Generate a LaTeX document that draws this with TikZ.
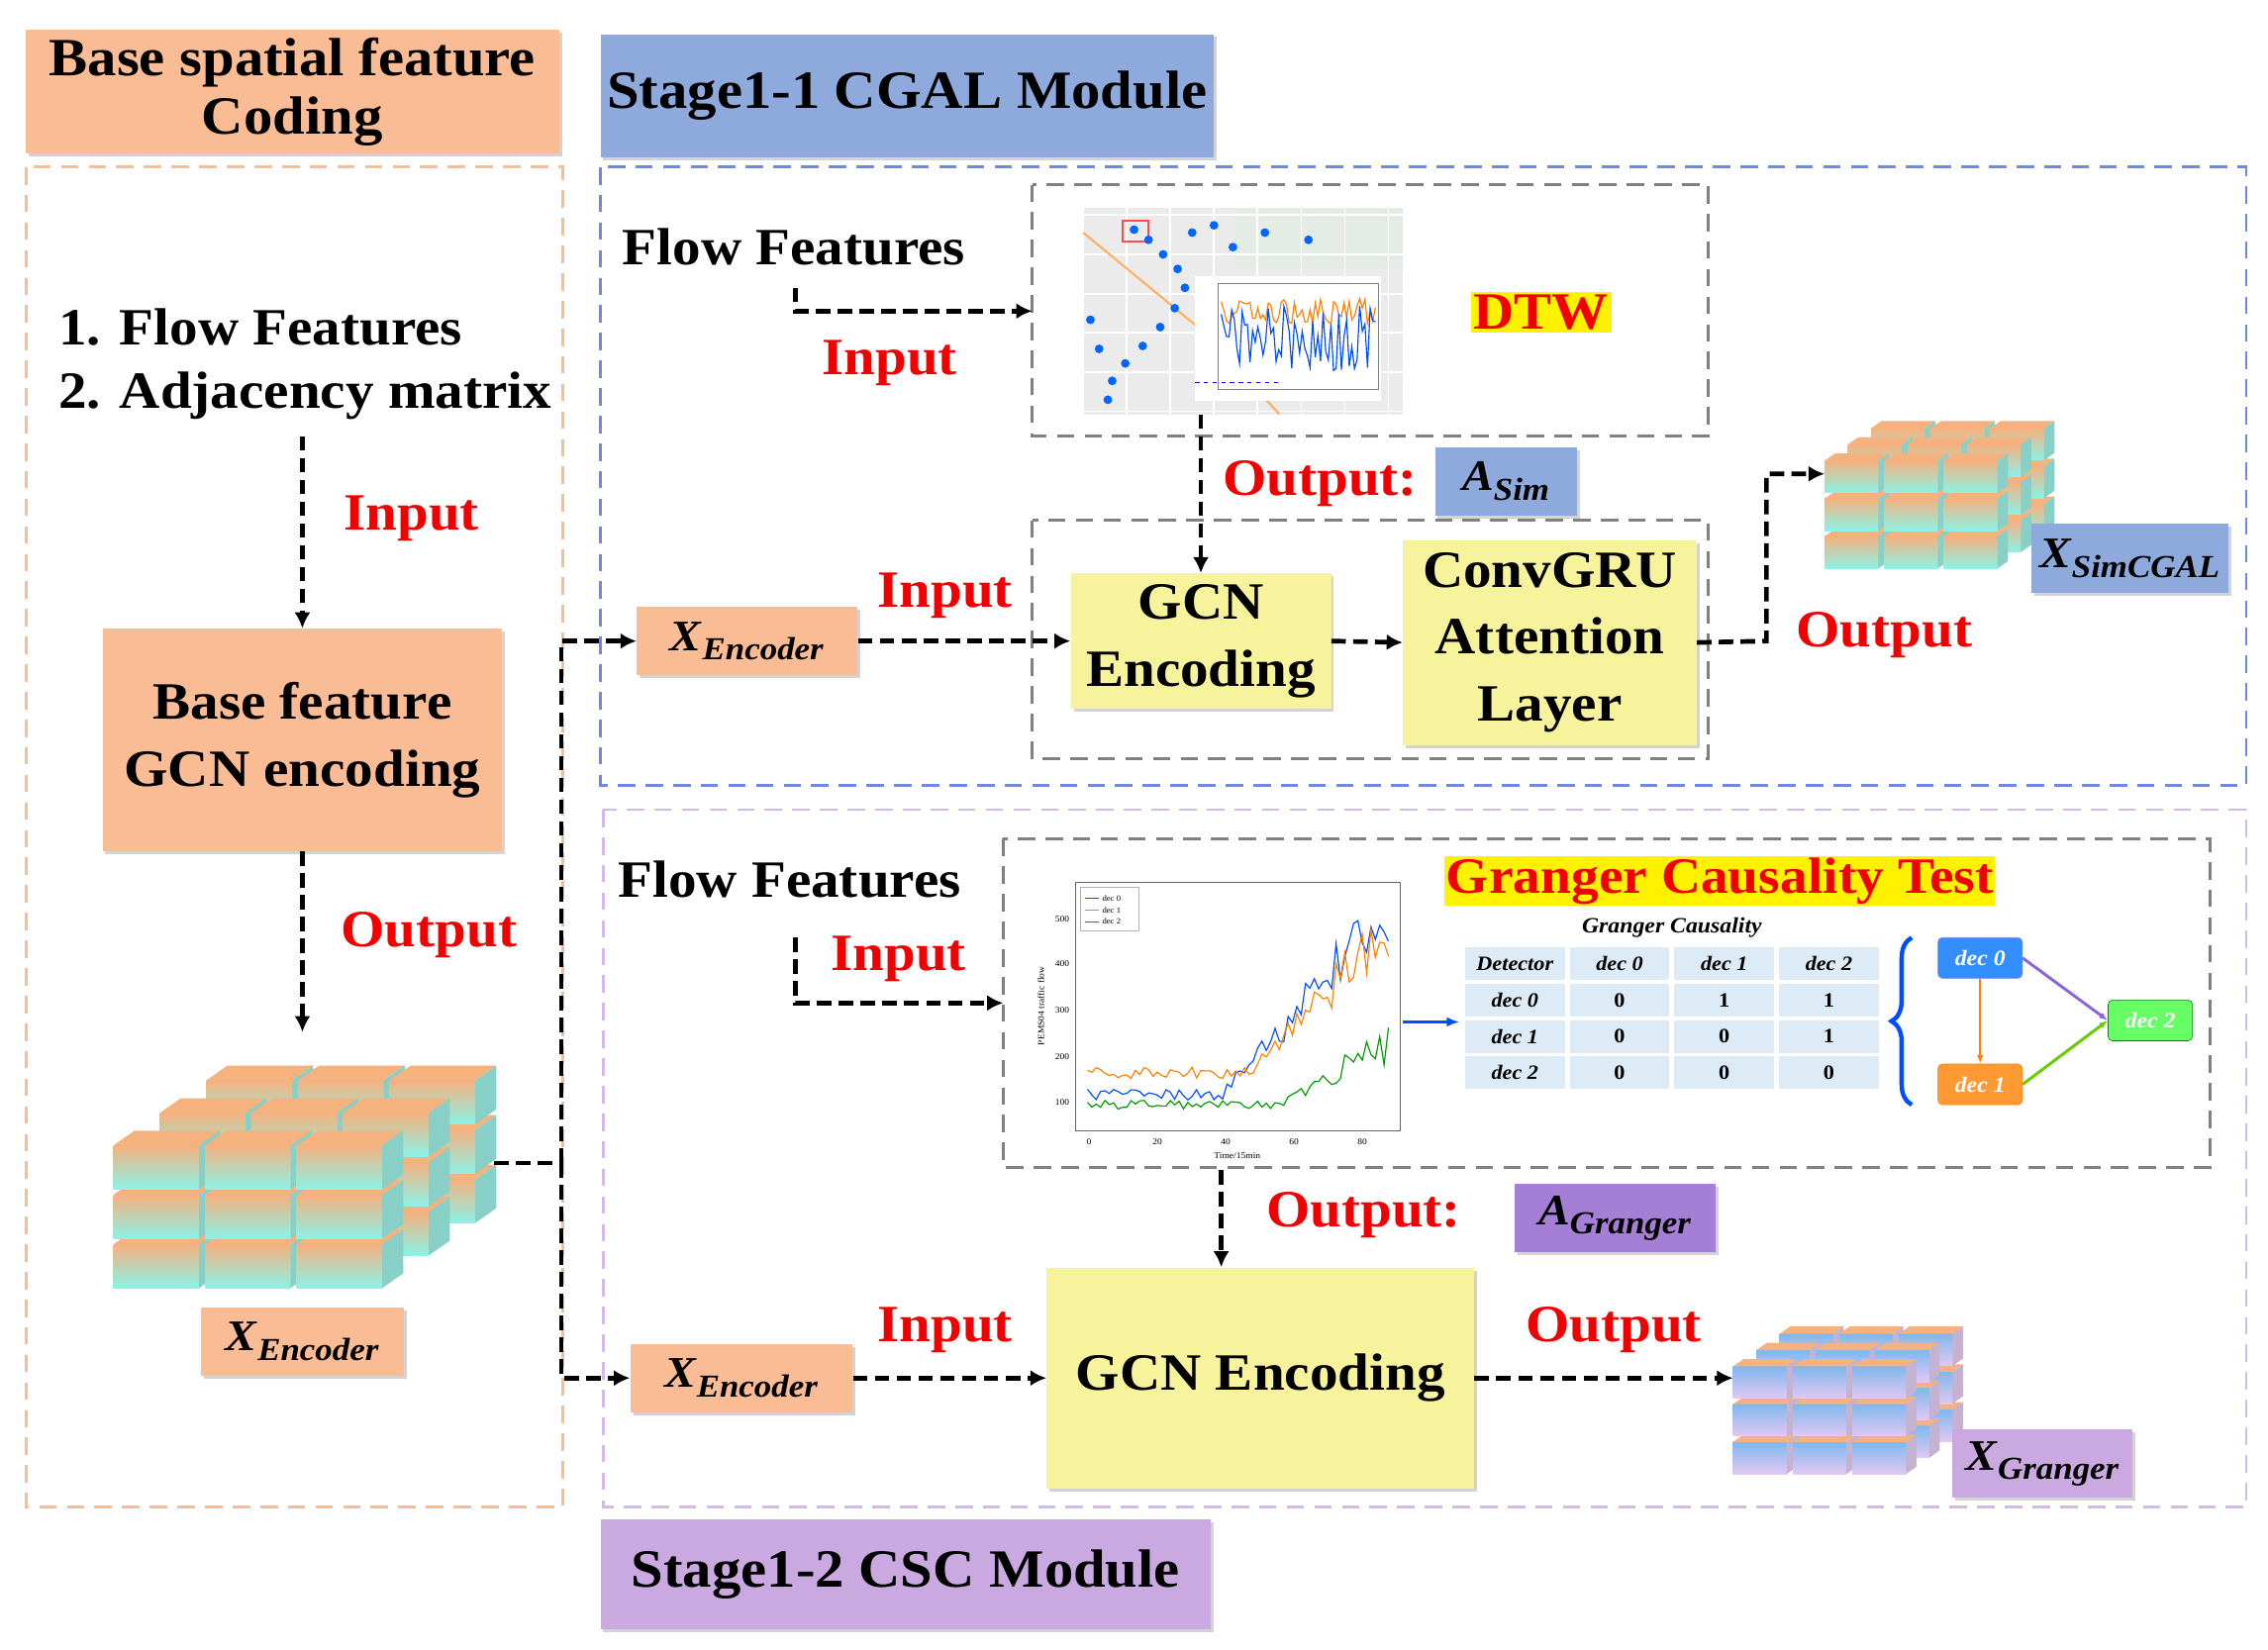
\documentclass[tikz,border=0pt]{standalone}
\usepackage{fontspec}
\setmainfont[FakeStretch=1.08]{Liberation Serif}
\usetikzlibrary{arrows.meta,shadows,decorations.pathreplacing}

\definecolor{peach}{HTML}{F9BC94}
\definecolor{bluebox}{HTML}{8EA9DB}
\definecolor{lilac}{HTML}{C9A9E0}
\definecolor{purplebox}{HTML}{A57FD6}
\definecolor{lemon}{HTML}{F6F39C}
\definecolor{cellblue}{HTML}{DDEBF7}
\definecolor{redtxt}{HTML}{F00000}
\definecolor{cubecyan}{HTML}{8CF2E6}
\definecolor{cubeblue}{HTML}{7FB8EE}
\definecolor{cubelilac}{HTML}{E2C8F2}
\definecolor{cubeorange}{HTML}{F5B17E}

\newcommand{\subx}[2]{\textbf{\textit{#1}}\textsubscript{\textbf{\textit{\fontsize{22}{24}\selectfont#2}}}}
% stack of 3x3x3 cuboids: x0, y0, w, h, layer shift, front top colour, front bottom colour, top face colour
\newcommand{\cubestack}[8]{%
  \foreach \l in {2,1,0}{\foreach \r in {2,1,0}{\foreach \c in {0,1,2}{
    \pgfmathsetmacro\X{#1+\c*(#3+4)+\l*#5}
    \pgfmathsetmacro\Y{#2+\r*(#4+4)-\l*#5*0.7}
    \pgfmathsetmacro\D{#5*0.45}
    \shade[top color=#6,bottom color=#7] (\X,\Y) rectangle ++(#3,#4);
    \fill[#8] (\X,\Y) -- ++(\D,-0.7*\D) -- ++(#3,0) -- ++(-\D,0.7*\D) -- cycle;
    \fill[#7!70!gray] (\X+#3,\Y) -- ++(\D,-0.7*\D) -- ++(0,#4) -- ++(-\D,0.7*\D) -- cycle;
  }}}}

\tikzset{
  title/.style={font=\fontsize{37}{40}\selectfont\bfseries, align=center, inner sep=0pt,
    drop shadow={opacity=0.35, shadow xshift=2pt, shadow yshift=-2pt}},
  block/.style={font=\fontsize{36}{46}\selectfont\bfseries, align=center, inner sep=0pt,
    drop shadow={opacity=0.35, shadow xshift=2pt, shadow yshift=-2pt}},
  tag/.style={font=\fontsize{30}{32}\selectfont, inner sep=0pt,
    drop shadow={opacity=0.35, shadow xshift=2pt, shadow yshift=-2pt}},
  plain/.style={font=\fontsize{36}{40}\selectfont\bfseries, anchor=west, inner sep=0pt},
  red/.style={font=\fontsize{36}{40}\selectfont\bfseries, text=redtxt, inner sep=0pt},
  frame/.style={dashed, line width=2pt, dash pattern=on 12pt off 7pt},
  flow/.style={line width=3.2pt, dash pattern=on 10pt off 5pt, -{Latex[length=11pt,width=11pt]}},
  link/.style={line width=3.2pt, dash pattern=on 10pt off 5pt},
  cell/.style={fill=cellblue, draw=white, line width=1.5pt, minimum width=70pt, minimum height=24pt,
    font=\fontsize{14}{16}\selectfont\bfseries, inner sep=0pt},
  dec/.style={rounded corners=3pt, minimum width=58pt, minimum height=28pt, text=white,
    font=\fontsize{15}{17}\selectfont\bfseries\itshape, inner sep=0pt}
}

\begin{document}
\begin{tikzpicture}[x=1pt, y=-1pt]
  \useasboundingbox (0,0) rectangle (1560,1135);

  %%-- TITLES --%%
  \node[title, fill=peach, minimum width=367pt, minimum height=85pt] (basetitle) at (201,63) {Base spatial feature\\Coding};
  \node[title, fill=bluebox, minimum width=422pt, minimum height=85pt] (cgaltitle) at (624,66) {Stage1-1 CGAL Module};
  \node[title, fill=lilac, minimum width=420pt, minimum height=75pt] (csctitle) at (623,1083) {Stage1-2 CSC Module};

  %%-- FRAMES --%%
  \draw[frame, draw=peach] (18,115) rectangle (387,1037);
  \draw[frame, draw=bluebox!80!blue] (413,115) rectangle (1545,540);
  \draw[frame, draw=lilac!80] (415,557) rectangle (1545,1037);
  \draw[frame, draw=gray] (710,127) rectangle (1175,300);
  \draw[frame, draw=gray] (710,358) rectangle (1175,522);
  \draw[frame, draw=gray] (690,577) rectangle (1520,803);

  %%-- LEFT COLUMN --%%
  \node[plain] (feat) at (40,225) {1. Flow Features};
  \node[plain] (adj) at (40,272) {2. Adjacency matrix};
  \coordinate (adjout) at (208,300);
  \node[block, fill=peach, minimum width=275pt, minimum height=153pt] (basegcn) at (208,509) {Base feature\\GCN encoding};
  \draw[flow] (adjout) -- (basegcn.north);
  \node[red] at (283,357) {Input};
  \cubestack{78}{788}{59}{30}{32}{cubeorange}{cubecyan}{cubeorange}
  \coordinate (cubein) at (208,710);
  \draw[flow] (basegcn.south) -- (cubein);
  \node[red] at (295,643) {Output};
  \node[tag, fill=peach, minimum width=140pt, minimum height=47pt] (xencl) at (208,923) {\subx{X}{Encoder}};

  %%-- SPLIT TO BOTH STAGES --%%
  \coordinate (cubeout) at (340,800);
  \coordinate (split) at (386,800);
  \node[tag, fill=peach, minimum width=152pt, minimum height=47pt] (xenca) at (514,441) {\subx{X}{Encoder}};
  \node[tag, fill=peach, minimum width=153pt, minimum height=47pt] (xencb) at (510,948) {\subx{X}{Encoder}};
  \draw[link] (cubeout) -- (split);
  \draw[flow] (split) |- (xenca.west);
  \draw[flow] (split) |- (xencb.west);

  %%-- STAGE 1-1 --%%
  \node[plain] (flowa) at (428,170) {Flow Features};
  \coordinate (flowaout) at (547,198);
  \coordinate (mapin) at (710,214);
  \draw[flow] (flowaout) |- (mapin);
  \node[red] at (612,250) {Input};
  % map with flow curve
  \fill[black!8] (745,143) rectangle (965,285);
  \fill[green!20!black!10] (850,143) rectangle (965,185);
  \foreach \a in {0,...,7} {\draw[white, line width=1.2pt] (745+\a*30,143) -- (745+\a*30,285);}
  \foreach \a in {0,...,5} {\draw[white, line width=1.2pt] (745,148+\a*27) -- (965,148+\a*27);}
  \draw[orange!60, line width=1.5pt] (745,160) -- (830,230) -- (880,285);
  \draw[red!70, line width=1pt] (772,152) rectangle (790,166);
  \foreach \p in {(780,158),(790,165),(800,175),(810,185),(815,198),(808,212),(798,225),(786,238),(774,250),(765,262),(762,275),(756,240),(750,220),(820,160),(835,155),(848,170),(870,160),(900,165)}
    {\fill[blue!60!cyan] \p circle (3pt);}
  \fill[white] (822,190) rectangle (950,276);
  \draw[gray, line width=0.5pt] (838,195) rectangle (948,268);
  \pgfmathsetseed{7}
  \draw[orange, line width=0.8pt] plot[domain=840:946, samples=60] (\x, {205+18*rnd});
  \draw[blue!70!cyan, line width=0.8pt] plot[domain=840:946, samples=60] (\x, {210+45*rnd});
  \draw[blue, dashed, line width=0.6pt] (822,263) -- (880,263);
  \node[fill=yellow, text=redtxt, font=\fontsize{36}{38}\selectfont\bfseries, inner sep=2pt] (dtw) at (1060,215) {DTW};
  \node[block, fill=lemon, minimum width=179pt, minimum height=93pt] (gcna) at (826,441) {GCN\\Encoding};
  \coordinate (mapout) at (826,285);
  \draw[flow] (mapout) -- (gcna.north);
  \node[red] at (908,333) {Output:};
  \node[tag, fill=bluebox, minimum width=98pt, minimum height=47pt] (asim) at (1036,331) {\subx{A}{Sim}};
  \draw[flow] (xenca.east) -- (gcna.west);
  \node[red] at (650,410) {Input};
  \node[block, fill=lemon, minimum width=202pt, minimum height=141pt] (convgru) at (1066,442) {ConvGRU\\Attention\\Layer};
  \draw[flow] (gcna.east) -- (convgru.west);
  \coordinate (cubea) at (1255,326);
  \draw[flow] (convgru.east) -- (1215,441) |- (cubea);
  \node[red] at (1296,437) {Output};
  \cubestack{1255}{317}{37}{22}{16}{cubeorange}{cubecyan}{cubeorange}
  \node[tag, fill=bluebox, minimum width=135pt, minimum height=48pt] (xsim) at (1465,384) {\subx{X}{SimCGAL}};

  %%-- STAGE 1-2 --%%
  \node[plain] (flowb) at (425,605) {Flow Features};
  \coordinate (flowbout) at (547,645);
  \coordinate (plotin) at (690,690);
  \draw[flow] (flowbout) |- (plotin);
  \node[red] at (618,660) {Input};
  % time series plot
  \draw[black!60, line width=0.6pt] (740,607) rectangle (963,778);
  \foreach \v/\y in {100/758,200/727,300/695,400/663,500/632}
    {\node[font=\fontsize{6}{7}\selectfont, anchor=east] at (739,\y) {\v};}
  \foreach \v/\x in {0/749,20/796,40/843,60/890,80/937}
    {\node[font=\fontsize{6}{7}\selectfont, anchor=north] at (\x,780) {\v};}
  \node[font=\fontsize{6}{7}\selectfont] at (851,795) {Time/15min};
  \node[font=\fontsize{6}{7}\selectfont, rotate=90] at (716,692) {PEMS04 traffic flow};
  \pgfmathsetseed{3}
  \draw[blue!70!cyan, line width=0.8pt] plot[domain=748:955, samples=70]
    (\x, {757-8*rnd-(\x>840)*(\x-840)*1.1*(0.8+0.4*rnd)});
  \draw[orange, line width=0.8pt] plot[domain=748:955, samples=70]
    (\x, {742-8*rnd-(\x>860)*(\x-860)*1.15*(0.7+0.5*rnd)});
  \draw[green!60!black, line width=0.8pt] plot[domain=748:955, samples=70]
    (\x, {763-6*rnd-(\x>880)*(\x-880)*0.7*(0.5+0.6*rnd)});
  \draw[black!30, fill=white] (743,610) rectangle (783,640);
  \foreach \n/\c [count=\i] in {dec 0/blue!70!cyan, dec 1/orange, dec 2/green!60!black}
    {\draw[\c, line width=0.8pt] (746,610+\i*8) -- (756,610+\i*8);
     \node[font=\fontsize{5.5}{6}\selectfont, anchor=west, inner sep=1pt] at (757,610+\i*8) {\n};}
  \node[fill=yellow, text=redtxt, font=\fontsize{35}{37}\selectfont\bfseries, inner sep=1pt] (granger) at (1183,606) {Granger Causality Test};
  \node[font=\fontsize{15}{17}\selectfont\bfseries\itshape] at (1150,638) {Granger Causality};
  % table
  \foreach \t [count=\j] in {Detector, dec 0, dec 1, dec 2}
    {\node[cell, font=\fontsize{14}{16}\selectfont\bfseries\itshape] at (970+\j*72,663) {\t};}
  \foreach \t/\a/\b/\c [count=\i] in {dec 0/0/1/1, dec 1/0/0/1, dec 2/0/0/0}
    {\node[cell, font=\fontsize{14}{16}\selectfont\bfseries\itshape] at (1042,663+\i*25) {\t};
     \node[cell] at (1114,663+\i*25) {\a};
     \node[cell] at (1186,663+\i*25) {\b};
     \node[cell] at (1258,663+\i*25) {\c};}
  \coordinate (plotout) at (965,703);
  \coordinate (tablein) at (1004,703);
  \draw[blue!70!cyan, line width=2.5pt, -{Latex[length=9pt]}] (plotout) -- (tablein);
  \draw[blue!70!cyan, line width=3pt, decorate, decoration={brace, amplitude=14pt}] (1315,760) -- (1315,645);
  \node[dec, fill=blue!55!cyan!80, draw=blue!50] (d0) at (1362,659) {dec 0};
  \node[dec, fill=orange!80, draw=orange] (d1) at (1362,746) {dec 1};
  \node[dec, fill=green!60, draw=green!50!black] (d2) at (1479,702) {dec 2};
  \draw[orange, line width=1.5pt, -{Latex[length=6pt]}] (d0) -- (d1);
  \draw[blue!50!violet!60, line width=2pt, -{Latex[length=6pt]}] (d0.east) -- (d2.west);
  \draw[green!60!orange, line width=2pt, -{Latex[length=6pt]}] (d1.east) -- (d2.west);
  \node[block, fill=lemon, minimum width=294pt, minimum height=152pt] (gcnb) at (867,948) {GCN Encoding};
  \coordinate (grangerout) at (840,805);
  \draw[flow] (grangerout) -- (gcnb.north -| grangerout);
  \node[red] at (938,836) {Output:};
  \node[tag, fill=purplebox, minimum width=138pt, minimum height=47pt] (agr) at (1111,838) {\subx{A}{Granger}};
  \draw[flow] (xencb.east) -- (gcnb.west);
  \node[red] at (650,915) {Input};
  \coordinate (cubeb) at (1192,948);
  \draw[flow] (gcnb.east) -- (cubeb);
  \node[red] at (1110,915) {Output};
  \cubestack{1192}{940}{37}{22}{16}{cubeblue}{cubelilac}{cubeorange}
  \node[tag, fill=lilac, minimum width=124pt, minimum height=47pt] (xgr) at (1405,1007) {\subx{X}{Granger}};
\end{tikzpicture}
\end{document}
